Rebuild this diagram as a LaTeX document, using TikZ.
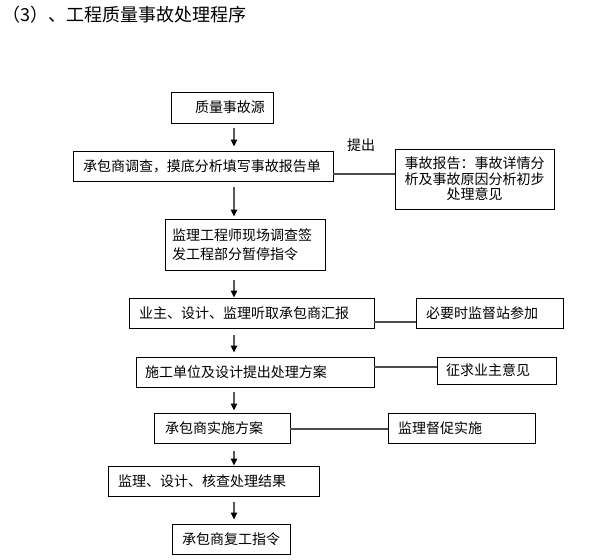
\documentclass[tikz,border=0pt]{standalone}
\usepackage{fontspec}
\setmainfont{Noto Sans CJK SC}
\usetikzlibrary{arrows.meta}
\newcommand{\bxt}[3]{\makebox[#1pt][l]{\hspace*{#2pt}#3}}
\tikzset{
  box/.style={draw=black, line width=0.9pt, inner sep=0pt, font=\fontsize{14pt}{16pt}\selectfont, anchor=center},
  arr/.style={draw=black!65, line width=1.3pt, -{Triangle[width=6.5pt,length=7pt,color=black]}},
  link/.style={draw=black!70, line width=1.1pt},
}
\begin{document}
\begin{tikzpicture}[x=1pt,y=-1pt]
\useasboundingbox (0,0) rectangle (598,560);
\node[anchor=west, inner sep=0pt, font=\fontsize{18pt}{20pt}\selectfont] (title) at (2,15) {（3）、工程质量事故处理程序};

\node[box, minimum width=102pt, minimum height=31pt] (b1) at (222,107.5) {\bxt{102}{24}{质量事故源}};
\node[box, minimum width=260pt, minimum height=30pt] (b2) at (203,166) {\bxt{260}{10}{承包商调查，摸底分析填写事故报告单}};
\node[box, minimum width=160pt, minimum height=51pt] (b3) at (245,244.5) {\parbox{160pt}{\fontsize{14pt}{19pt}\selectfont\hspace*{7pt}监理工程师现场调查签\\\hspace*{7pt}发工程部分暂停指令}};
\node[box, minimum width=159pt, minimum height=60pt, align=center, font=\fontsize{14pt}{15.5pt}\selectfont] (r1) at (474.5,179) {事故报告：事故详情分\\析及事故原因分析初步\\处理意见};
\node[box, minimum width=245pt, minimum height=30pt] (b4) at (251.5,313) {\bxt{245}{10}{业主、设计、监理听取承包商汇报}};
\node[box, minimum width=147pt, minimum height=30pt] (r4) at (489.5,313) {\bxt{147}{10}{必要时监督站参加}};
\node[box, minimum width=238pt, minimum height=30pt] (b5) at (255,372) {\bxt{238}{9}{施工单位及设计提出处理方案}};
\node[box, minimum width=119pt, minimum height=27pt] (r5) at (496.5,370.5) {\bxt{119}{9}{征求业主意见}};
\node[box, minimum width=136pt, minimum height=30pt] (b6) at (222,428) {\bxt{136}{11}{承包商实施方案}};
\node[box, minimum width=147pt, minimum height=30pt] (r6) at (461.5,428) {\bxt{147}{10}{监理督促实施}};
\node[box, minimum width=211pt, minimum height=30pt] (b7) at (213.5,481) {\bxt{211}{10}{监理、设计、核查处理结果}};
\node[box, minimum width=118pt, minimum height=30pt] (b8) at (231,539) {\bxt{118}{10}{承包商复工指令}};

\node[inner sep=0pt, font=\fontsize{14pt}{16pt}\selectfont] (lbl) at (361,145) {提出};

\coordinate (ax) at (234,0);
\draw[arr, shorten <=5pt, shorten >=4pt] (b1.south -| ax) -- (b2.north -| ax);
\draw[arr, shorten <=6pt, shorten >=2pt] (b2.south -| ax) -- (b3.north -| ax);
\draw[arr, shorten <=10pt] (b3.south -| ax) -- (b4.north -| ax);
\draw[arr, shorten <=7pt, shorten >=4pt] (b4.south -| ax) -- (b5.north -| ax);
\draw[arr, shorten <=5pt, shorten >=2pt] (b5.south -| ax) -- (b6.north -| ax);
\draw[arr, shorten <=8pt] (b6.south -| ax) -- (b7.north -| ax);
\draw[arr, shorten <=6pt, shorten >=4pt] (b7.south -| ax) -- (b8.north -| ax);

\draw[link] ([yshift=-8pt]b2.east) -- ([yshift=-8pt]b2.east -| r1.west);
\draw[link] ([yshift=-9pt]b4.east) -- ([yshift=-9pt]b4.east -| r4.west);
\draw[link] ([yshift=5pt]b5.east) -- ([yshift=5pt]b5.east -| r5.west);
\draw[link] ([yshift=-1pt]b6.east) -- ([yshift=-1pt]b6.east -| r6.west);
\end{tikzpicture}
\end{document}
